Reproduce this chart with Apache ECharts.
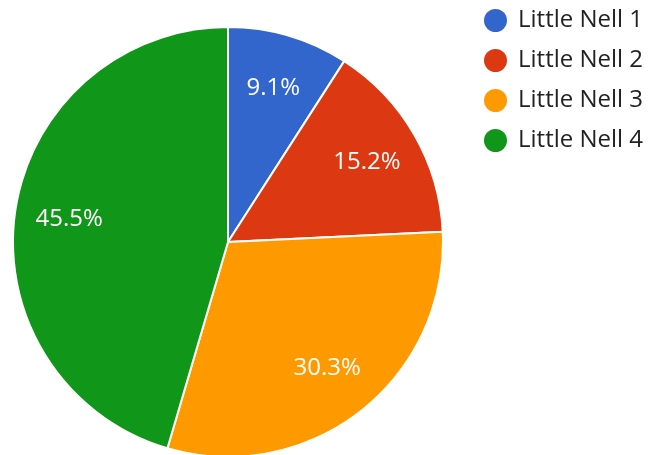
<!DOCTYPE html>
<html>
<head>
<meta charset="utf-8">
<script src="https://cdn.jsdelivr.net/npm/echarts@6/dist/echarts.min.js"></script>
<style>
  html, body { margin: 0; padding: 0; background: #fff; }
  #chart { width: 650px; height: 455px; }
</style>
</head>
<body>
<div id="chart"></div>
<script>
const categories = ["Little Nell 1", "Little Nell 2", "Little Nell 3", "Little Nell 4"];
const values = [3, 5, 10, 15];
const colors = ["#3366cc", "#dc3912", "#ff9900", "#109618"];

const FONT = "'Open Sans', 'Noto Sans', sans-serif";
const data = categories.map((name, i) => ({ name, value: values[i], itemStyle: { color: colors[i] } }));

const chart = echarts.init(document.getElementById("chart"));
chart.setOption({
  backgroundColor: "#fff",
  animation: false,
  legend: {
    orient: "vertical",
    left: 477,
    top: 2,
    icon: "circle",
    itemWidth: 25,
    itemHeight: 25,
    itemGap: 13,
    textStyle: {
      fontFamily: FONT,
      fontSize: 24,
      lineHeight: 24,
      color: "#222",
      padding: [0, 0, 0, 5],
    },
    data: categories,
  },
  series: [
    {
      type: "pie",
      center: [228, 242],
      radius: 215,
      startAngle: 90,
      clockwise: true,
      silent: true,
      itemStyle: { borderColor: "#fff", borderWidth: 2 },
      label: { show: false },
      labelLine: { show: false },
      data,
    },
    {
      // transparent ring used only to place the percentage labels further out
      type: "pie",
      center: [228, 242],
      radius: [100, 215],
      startAngle: 90,
      clockwise: true,
      silent: true,
      legendHoverLink: false,
      itemStyle: { color: "transparent", borderWidth: 0 },
      label: {
        show: true,
        position: "inside",
        formatter: (p) => p.percent.toFixed(1) + "%",
        color: "#fff",
        fontFamily: FONT,
        fontSize: 24,
      },
      labelLine: { show: false },
      data: categories.map((name, i) => ({ name: name + " ", value: values[i] })),
    },
  ],
});
</script>
</body>
</html>
